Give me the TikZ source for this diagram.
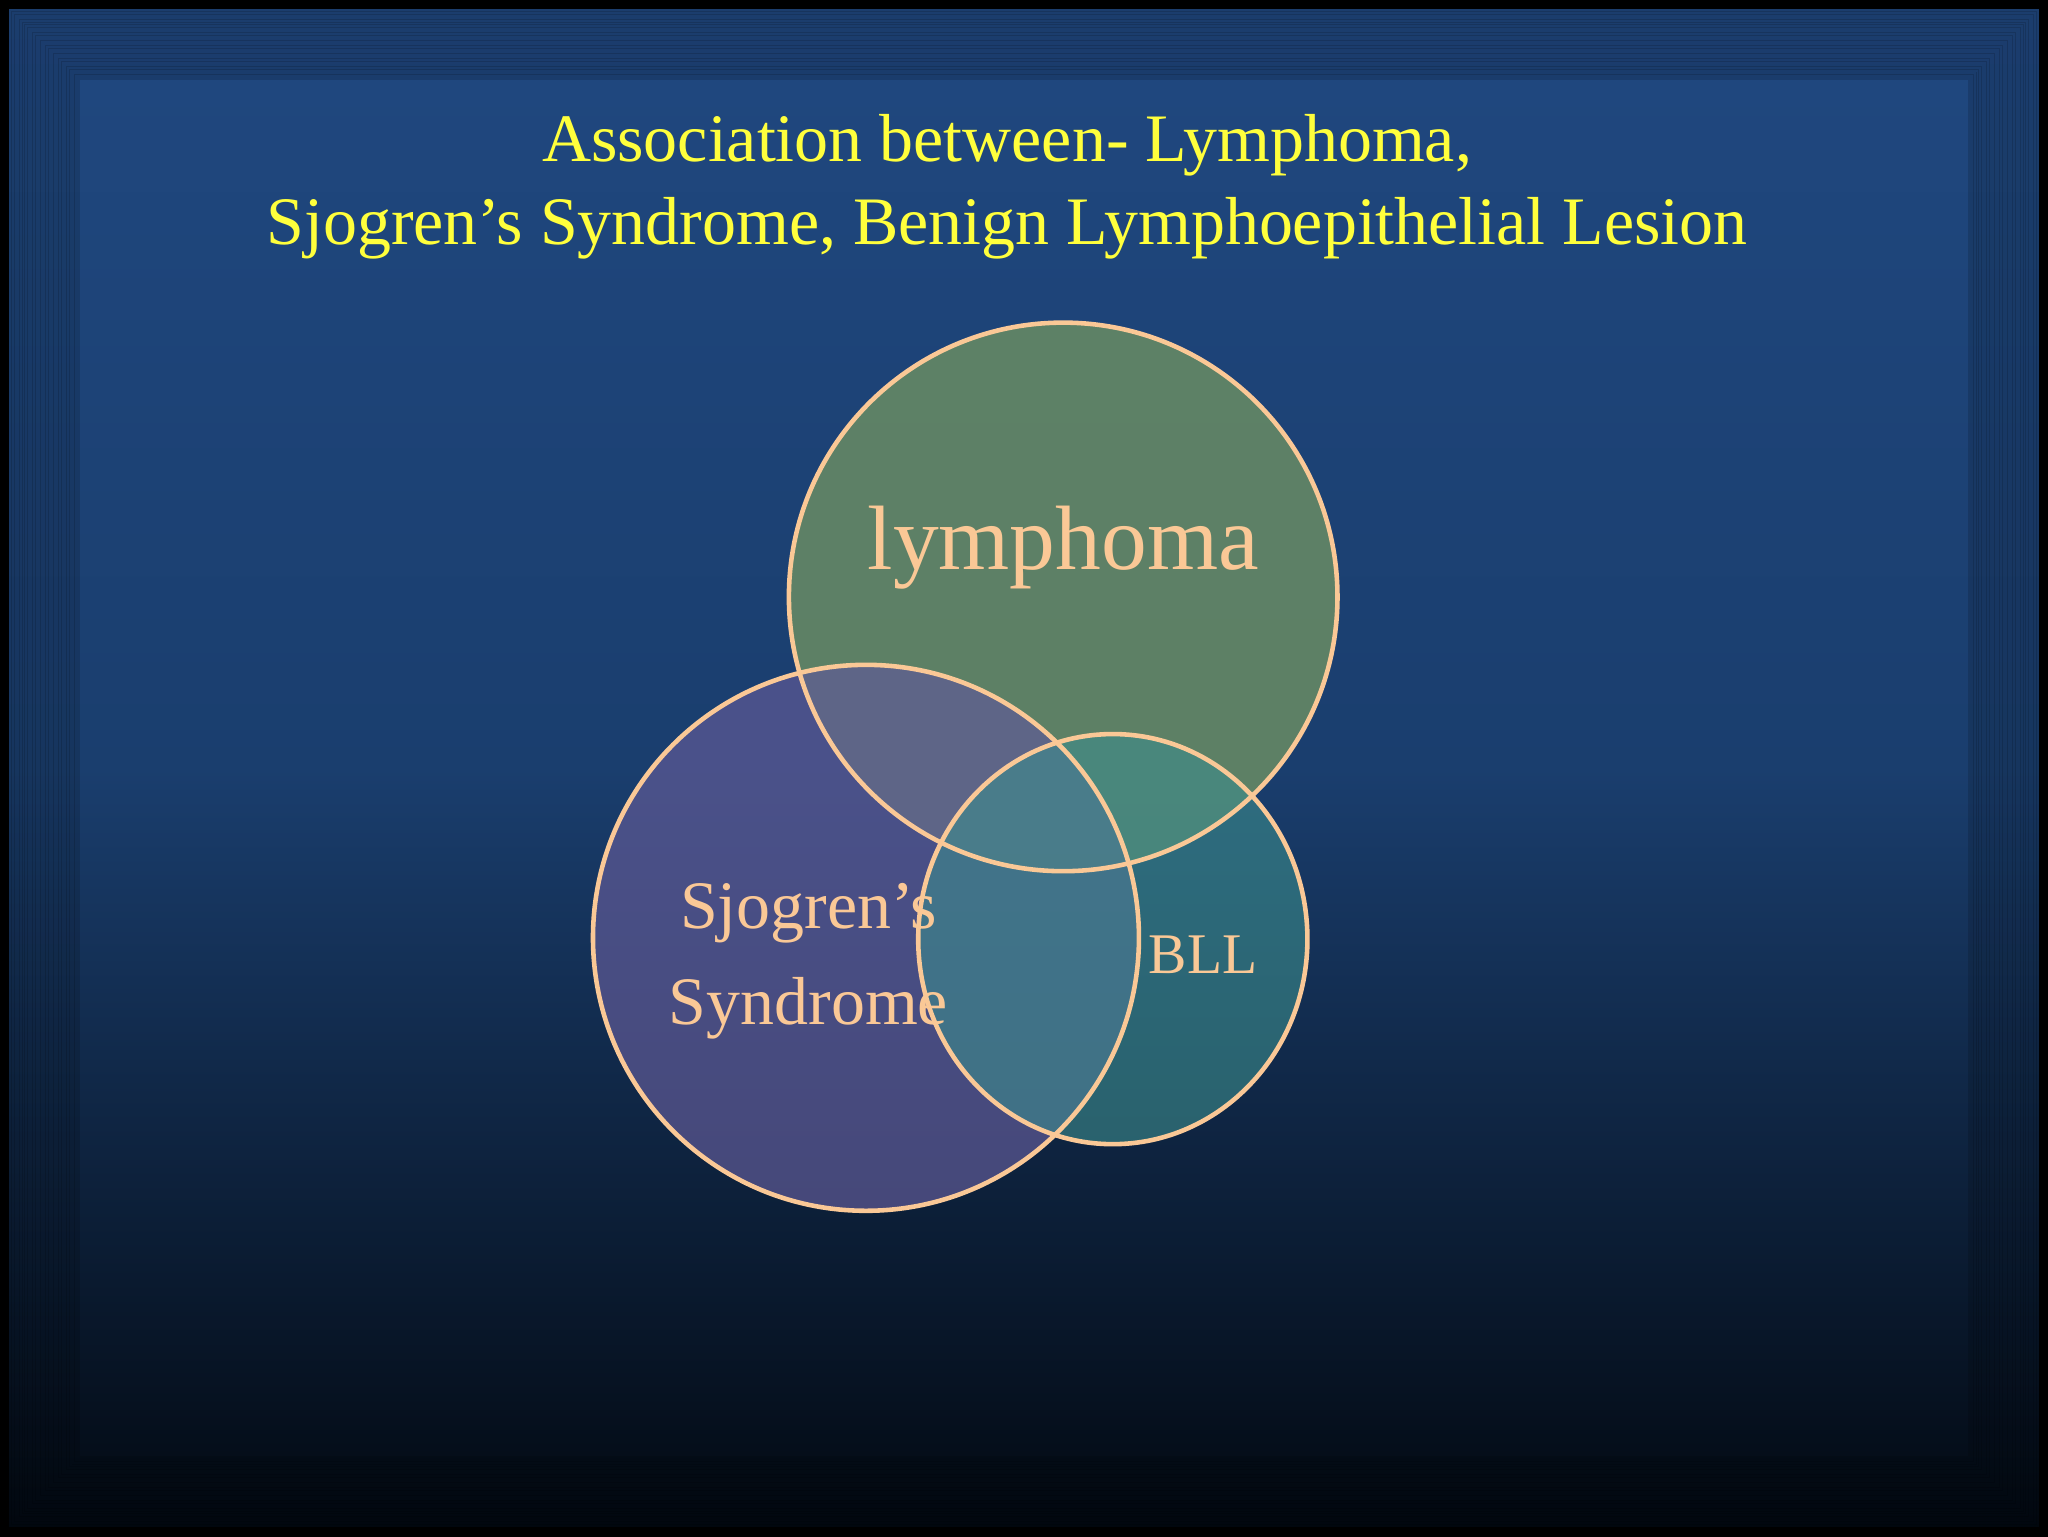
\documentclass[tikz,border=0pt]{standalone}
\usepackage{fontspec}
\setmainfont{Liberation Serif}
\definecolor{cbgtop}{RGB}{32,72,128}
\definecolor{cbgmid}{RGB}{26,62,110}
\definecolor{cbgbot}{RGB}{2,8,16}
\definecolor{ctitle}{RGB}{255,255,60}
\definecolor{cpeach}{RGB}{250,200,150}
\definecolor{clym}{RGB}{105,140,100}
\definecolor{csjo}{RGB}{95,90,150}
\definecolor{cbll}{RGB}{60,140,140}
\begin{document}
\begin{tikzpicture}[x=1pt,y=1pt,yscale=-1,
  set/.style={circle,minimum size=#1,inner sep=0pt},
  ring/.style={draw=cpeach,line width=3.5pt},
  lab/.style={text=cpeach,align=center}]
\useasboundingbox (0,0) rectangle (1568,1176);
\fill[black] (0,0) rectangle (1568,1176);
\shade[top color=cbgtop,bottom color=cbgbot,middle color=cbgmid] (0,0) rectangle (1568,1176);
\foreach \i in {0,...,30}
  \draw[black,opacity=0.14,line width=2.5pt] (\i*2,\i*2) rectangle (1568-\i*2,1176-\i*2);
\draw[black,line width=14pt] (0,0) rectangle (1568,1176);
% circles
\node[set=420pt] (lym) at (814,457) {};
\node[set=418pt] (sjo) at (663,718) {};
\node[set=300pt] (bll) at (852,719) {};
\fill[clym,fill opacity=0.85] (lym.center) circle (210);
\fill[csjo,fill opacity=0.7] (sjo.center) circle (209);
\fill[cbll,fill opacity=0.6] (bll.center) ellipse [x radius=149,y radius=157];
\draw[ring] (lym.center) circle (210);
\draw[ring] (sjo.center) circle (209);
\draw[ring] (bll.center) ellipse [x radius=149,y radius=157];
% texts
\node[text=ctitle,align=center,font=\fontsize{52}{63}\selectfont] (title) at (771,143)
  {Association between- Lymphoma,\\Sjogren’s Syndrome, Benign Lymphoepithelial Lesion};
\node[lab,font=\fontsize{70}{80}\selectfont] (tlym) at (814,419) {lymphoma};
\node[lab,font=\fontsize{52}{74}\selectfont] (tsjo) at (619,736) {Sjogren’s\\Syndrome};
\node[lab,font=\fontsize{44}{50}\selectfont] (tbll) at (921,731) {BLL};
\end{tikzpicture}
\end{document}
